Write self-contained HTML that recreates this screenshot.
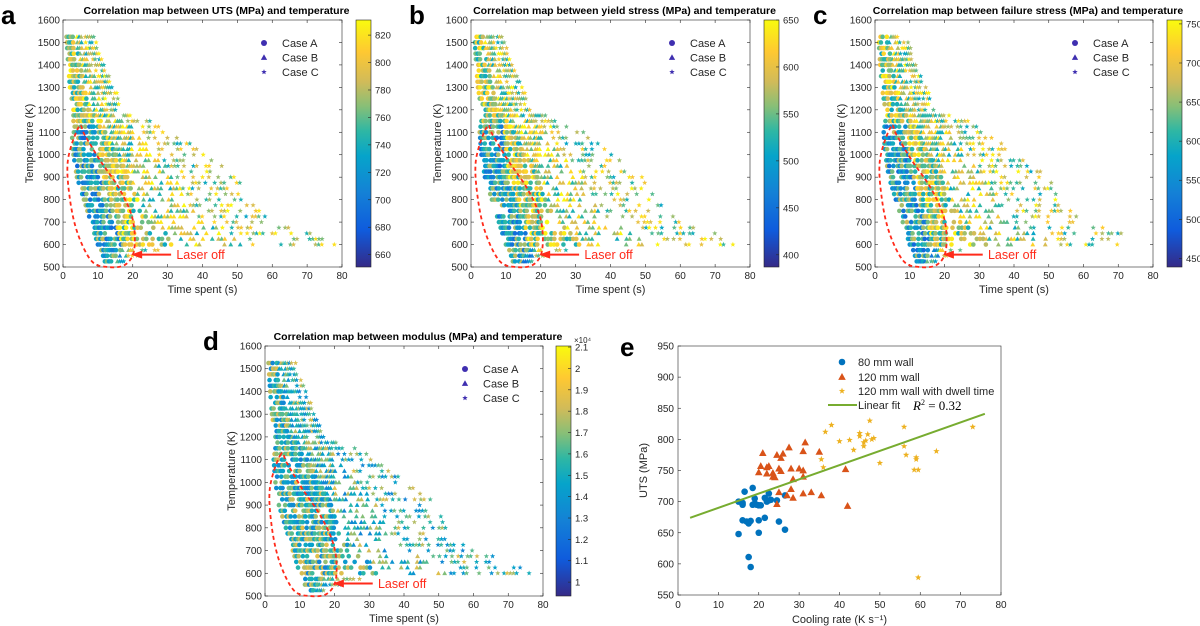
<!DOCTYPE html>
<html><head><meta charset="utf-8"><style>
body{margin:0;background:#fff}
svg{display:block;font-family:"Liberation Sans",sans-serif}
</style></head><body>
<svg id="fig" width="1200" height="626" viewBox="0 0 1200 626">
<defs>
<linearGradient id="parula" x1="0" y1="1" x2="0" y2="0">
<stop offset="0" stop-color="#352a87"/><stop offset="0.15" stop-color="#0f5cdd"/><stop offset="0.3" stop-color="#1481d6"/><stop offset="0.45" stop-color="#06a4ca"/><stop offset="0.55" stop-color="#2eb7a4"/><stop offset="0.65" stop-color="#87bf77"/><stop offset="0.75" stop-color="#d1bb59"/><stop offset="0.87" stop-color="#fec832"/><stop offset="1" stop-color="#f9fb0e"/>
</linearGradient>
</defs>
</svg>
<script>
// ---- Panel e data ----
const blueX=[15,15,16,16,16.5,16,17,17.5,18,17.5,18,18.5,18.5,19,19,19.5,20,20,20,20.5,21.5,21.5,22,22.5,22.5,23,24.5,25,26.5,26.5];
const blueY=[648,700,698,695,716,670,668,665,669,611,595,695,722,705,697,695,670,650,694,694,674,706,700,713,702,703,702,668,710,655];
const triX=[20,20.5,21,22,22.5,22,23.5,23.5,24,24.5,24.5,25,25,25.5,25.5,26,27,27.5,28,28,28.5,28.5,30,31,31,31,31,31.5,33,35,35.5,41.5,42];
const triY=[747,757,778,755,757,745,740,746,739,775,696,715,753,770,749,777,710,787,753,720,706,736,753,750,781,713,740,795,715,780,710,752,693];
const starX=[35.5,36,36.5,38,40,42.5,43.5,45,45,46,46,46.5,47,47.5,48.5,48,50,56,56,56.5,58.5,59,59,59.5,59.5,64,73];
const starY=[768,755,812,823,797,799,783,805,810,795,789,798,808,830,802,800,762,820,789,775,751,771,768,751,578,781,820];
const fitX=[3,76];
const fitY=[674,841];
const eXTicks=[0,10,20,30,40,50,60,70,80];
const eYTicks=[550,600,650,700,750,800,850,900,950];
// ---- Panels a-d envelope data (temperature rows) ----
const rowT=[525,575,600,650,700,800,900,1000,1100,1150,1200,1300,1400,1525];
const rowLeft=[12,11,10,9,8,6,4,3,2.5,3,3,2,1.5,1];
const rowRight=[18,28,78,72,60,53,50,41,33,27,17,15,12,9];
// laser-off dashed outline (time s, temperature K)
const loopT=[4.6,1.4,2,4.3,8.3,12.9,17.8,20.4,20,16.3,10.6,6.3];
const loopK=[1125,975,800,645,525,500,510,575,710,845,975,1085];
const tTicks=[0,10,20,30,40,50,60,70,80];
const TTicks=[500,600,700,800,900,1000,1100,1200,1300,1400,1500,1600];
const cbA=[660,680,700,720,740,760,780,800,820];
const cbB=[400,450,500,550,600,650];
const cbC=[450,500,550,600,650,700,750];
const cbD=[1,1.1,1.2,1.3,1.4,1.5,1.6,1.7,1.8,1.9,2,2.1];

const NS="http://www.w3.org/2000/svg";
const svg=document.getElementById('fig');
function mk(tag,attrs,parent,text){const e=document.createElementNS(NS,tag);for(const k in attrs)e.setAttribute(k,attrs[k]);if(text!==undefined)e.textContent=text;(parent||svg).appendChild(e);return e;}
const stops=[[0,[53,42,135]],[0.15,[15,92,221]],[0.3,[20,129,214]],[0.45,[6,164,202]],[0.55,[46,183,164]],[0.65,[135,191,119]],[0.75,[209,187,89]],[0.87,[254,200,50]],[1,[249,251,14]]];
function parula(v){v=Math.max(0,Math.min(1,v));for(let i=1;i<stops.length;i++){if(v<=stops[i][0]){const a=stops[i-1],b=stops[i];const f=(v-a[0])/(b[0]-a[0]);const c=a[1].map((x,j)=>Math.round(x+(b[1][j]-x)*f));return `rgb(${c})`;}}return 'rgb(249,251,14)';}
function hash(i){let x=Math.sin(i*12.9898+78.233)*43758.5453;return x-Math.floor(x);}
function interp(xs,ys,x){if(x<=xs[0])return ys[0];for(let i=1;i<xs.length;i++){if(x<=xs[i]){const f=(x-xs[i-1])/(xs[i]-xs[i-1]);return ys[i-1]+(ys[i]-ys[i-1])*f;}}return ys[ys.length-1];}
function star(cx,cy,r){let p=[];for(let k=0;k<10;k++){const a=-Math.PI/2+k*Math.PI/5;const rr=k%2?r*0.42:r;p.push((cx+rr*Math.cos(a)).toFixed(1)+','+(cy+rr*Math.sin(a)).toFixed(1));}return p.join(' ');}
function marker(g,type,x,y,col,s){
 let e;
 if(type===0)e=mk('circle',{cx:x,cy:y,r:s,fill:col},g);
 else if(type===1)e=mk('polygon',{points:`${x},${y-s*1.1} ${x+s*1.05},${y+s*0.8} ${x-s*1.05},${y+s*0.8}`,fill:col},g);
 else e=mk('polygon',{points:star(x,y,s*1.2),fill:col},g);
 return e;
}
function closedSpline(pts){
 const n=pts.length;let d=`M${pts[0][0].toFixed(1)},${pts[0][1].toFixed(1)}`;
 for(let i=0;i<n;i++){const p0=pts[(i-1+n)%n],p1=pts[i],p2=pts[(i+1)%n],p3=pts[(i+2)%n];
  const c1=[p1[0]+(p2[0]-p0[0])/6,p1[1]+(p2[1]-p0[1])/6],c2=[p2[0]-(p3[0]-p1[0])/6,p2[1]-(p3[1]-p1[1])/6];
  d+=` C${c1[0].toFixed(1)},${c1[1].toFixed(1)} ${c2[0].toFixed(1)},${c2[1].toFixed(1)} ${p2[0].toFixed(1)},${p2[1].toFixed(1)}`;}
 return d+'Z';
}

function panel(P){
 const g=mk('g',{},svg);
 
 
 const X=t=>P.x0+(P.x1-P.x0)*t/80;
 const Y=T=>P.y1+(P.y0-P.y1)*(T-500)/1100;
 mk('rect',{x:P.x0,y:P.y0,width:P.x1-P.x0,height:P.y1-P.y0,fill:'#fff',stroke:'#262626','stroke-width':0.6},g);
 const pg=mk('g',{},g);
 
 
 let idx=P.seed;
 for(let T=525;T<=1525;T+=25){
  const L=interp(rowT,rowLeft,T),R=interp(rowT,rowRight,T);
  for(let t=L;t<=R;t+=(t<20?0.6:0.9)){
   idx++;
   const h=hash(idx);
   const p=t<20?0.75:(t<35?0.5:0.33);
   if(h>p)continue;
   const f=(t-L)/Math.max(1,(R-L));
   const type=f<0.33?0:(f<0.62?1:2);
   const inBand=(t-L)<7 && T<1150;
   const h2=hash(idx*7.1);
   let v;
   if(P.mid) v=0.3+h2*0.5;
   else v=inBand?0.2+h2*0.55:0.45+h2*0.55;
   marker(pg,type,X(t),Y(T),parula(v),2.3);
  }
 }
 tTicks.forEach(t=>{const x=X(t);mk('line',{x1:x,y1:P.y1,x2:x,y2:P.y1-3,stroke:'#262626','stroke-width':0.6},g);mk('line',{x1:x,y1:P.y0,x2:x,y2:P.y0+3,stroke:'#262626','stroke-width':0.6},g);mk('text',{x:x,y:P.y1+12,'font-size':10,'text-anchor':'middle',fill:'#262626'},g,t);});
 TTicks.forEach(T=>{const y=Y(T);mk('line',{x1:P.x0,y1:y,x2:P.x0+3,y2:y,stroke:'#262626','stroke-width':0.6},g);mk('line',{x1:P.x1,y1:y,x2:P.x1-3,y2:y,stroke:'#262626','stroke-width':0.6},g);mk('text',{x:P.x0-3,y:y+3.5,'font-size':10,'text-anchor':'end',fill:'#262626'},g,T);});
 const xl=mk('text',{x:(P.x0+P.x1)/2,y:P.y1+26,'font-size':11,'text-anchor':'middle',fill:'#262626'},g,'Time spent (s)');
 
 const yl=mk('text',{x:0,y:0,'font-size':11,'text-anchor':'middle',fill:'#262626',transform:`translate(${P.x0-30},${(P.y0+P.y1)/2}) rotate(-90)`},g,'Temperature (K)');
 
 const tt=mk('text',{x:(P.x0+P.x1)/2+14,y:P.y0-6,'font-size':10.5,'font-weight':'bold','text-anchor':'middle',fill:'#000'},g,P.title);
 
 const lb=mk('text',{x:P.x0-62,y:P.y0+4,'font-size':26,'font-weight':'bold',fill:'#000'},g,P.id);
 
 const lg=mk('g',{},g);
 
 ['Case A','Case B','Case C'].forEach((s,i)=>{const ly=P.y0+23+i*14.5;marker(lg,i,P.x1-78,ly,'#3f2fb0',i===2?2.4:3);mk('text',{x:P.x1-60,y:ly+4,'font-size':11,fill:'#262626'},lg,s);});
 const pts=loopT.map((t,i)=>[X(t),Y(loopK[i])]);
 const el=mk('path',{d:closedSpline(pts),fill:'none',stroke:'#ff2a1a','stroke-width':1.8,'stroke-dasharray':'4,3'},g);
 
 const ay=Y(555);
 mk('line',{x1:X(31),y1:ay,x2:X(21.5),y2:ay,stroke:'#ff2a1a','stroke-width':2},g);
 mk('polygon',{points:`${X(19.5)},${ay} ${X(22.7)},${ay-4} ${X(22.7)},${ay+4}`,fill:'#ff2a1a'},g);
 const lt=mk('text',{x:X(32.5),y:ay+4.5,'font-size':12.5,fill:'#ff2a1a'},g,'Laser off');
 
 const cb=mk('rect',{x:P.cx,y:P.y0,width:15,height:P.y1-P.y0,fill:'url(#parula)',stroke:'#262626','stroke-width':0.6},g);
 
 P.cb.forEach(v=>{const y=P.y1-(v-P.cmin)/(P.cmax-P.cmin)*(P.y1-P.y0);mk('line',{x1:P.cx+12,y1:y,x2:P.cx+15,y2:y,stroke:'#262626','stroke-width':0.6},g);mk('text',{x:P.cx+19,y:y+3.5,'font-size':9.5,fill:'#262626'},g,v);});
 if(P.exp)mk('text',{x:P.cx+18,y:P.y0-3,'font-size':8,fill:'#262626'},g,'×10⁴');
}
panel({id:'a',x0:63,x1:342,y0:20,y1:267,cx:356,title:'Correlation map between UTS (MPa) and temperature',cb:cbA,cmin:651,cmax:831,seed:0});
panel({id:'b',x0:471,x1:750,y0:20,y1:267,cx:764,title:'Correlation map between yield stress (MPa) and temperature',cb:cbB,cmin:387,cmax:650,seed:5000});
panel({id:'c',x0:875,x1:1153,y0:20,y1:267,cx:1167,title:'Correlation map between failure stress (MPa) and temperature',cb:cbC,cmin:439,cmax:755,seed:10000});
panel({id:'d',x0:265,x1:543,y0:346,y1:596,cx:556,title:'Correlation map between modulus (MPa) and temperature',cb:cbD,cmin:0.935,cmax:2.105,seed:15000,mid:true,exp:true});

// ---- Panel e ----
(function(){
 const g=mk('g',{},svg);
 
 const x0=678,x1=1001,y0=346,y1=595;
 const X=v=>x0+(x1-x0)*v/80;
 const Y=v=>y1-(y1-y0)*(v-550)/400;
 mk('rect',{x:x0,y:y0,width:x1-x0,height:y1-y0,fill:'#fff',stroke:'#262626','stroke-width':0.6},g);
 eXTicks.forEach(t=>{const x=X(t);mk('line',{x1:x,y1:y1,x2:x,y2:y1-3,stroke:'#262626','stroke-width':0.6},g);mk('text',{x:x,y:y1+13,'font-size':10,'text-anchor':'middle',fill:'#262626'},g,t);});
 eYTicks.forEach(v=>{const y=Y(v);mk('line',{x1:x0,y1:y,x2:x0+3,y2:y,stroke:'#262626','stroke-width':0.6},g);mk('text',{x:x0-4,y:y+3.5,'font-size':10,'text-anchor':'end',fill:'#262626'},g,v);});
 const xl=mk('text',{x:(x0+x1)/2,y:y1+28,'font-size':11,'text-anchor':'middle',fill:'#262626'},g,'Cooling rate  (K s⁻¹)');
 
 const yl=mk('text',{x:0,y:0,'font-size':11,'text-anchor':'middle',fill:'#262626',transform:`translate(${x0-31},${(y0+y1)/2}) rotate(-90)`},g,'UTS (MPa)');
 
 const lb=mk('text',{x:620,y:356,'font-size':26,'font-weight':'bold',fill:'#000'},g,'e');
 
 blueX.forEach((v,i)=>{const m=marker(g,0,X(v),Y(blueY[i]),'#0072bd',3.3);});
 triX.forEach((v,i)=>{const m=marker(g,1,X(v),Y(triY[i]),'#d95319',3.6);});
 starX.forEach((v,i)=>{const m=marker(g,2,X(v),Y(starY[i]),'#edb120',2.8);});
 const fl=mk('line',{x1:X(fitX[0]),y1:Y(fitY[0]),x2:X(fitX[1]),y2:Y(fitY[1]),stroke:'#77ac30','stroke-width':2},g);
 
 const lg=mk('g',{},g);
 
 marker(lg,0,842,362,'#0072bd',3.3);mk('text',{x:858,y:366,'font-size':11,fill:'#262626'},lg,'80 mm wall');
 marker(lg,1,842,377,'#d95319',3.6);mk('text',{x:858,y:381,'font-size':11,fill:'#262626'},lg,'120 mm wall');
 marker(lg,2,842,391,'#edb120',2.8);mk('text',{x:858,y:395,'font-size':11,fill:'#262626'},lg,'120 mm wall with dwell time');
 mk('line',{x1:828,y1:405,x2:857,y2:405,stroke:'#77ac30','stroke-width':2},lg);
 mk('text',{x:858,y:409,'font-size':11,fill:'#262626'},lg,'Linear fit');
 const r2=mk('text',{x:913,y:410,'font-size':13,'font-family':'Liberation Serif, serif',fill:'#000'},lg);
 r2.innerHTML='<tspan font-style="italic">R</tspan><tspan dy="-5" font-size="8">2</tspan><tspan dy="5"> = 0.32</tspan>';
})();
</script>
</body></html>
